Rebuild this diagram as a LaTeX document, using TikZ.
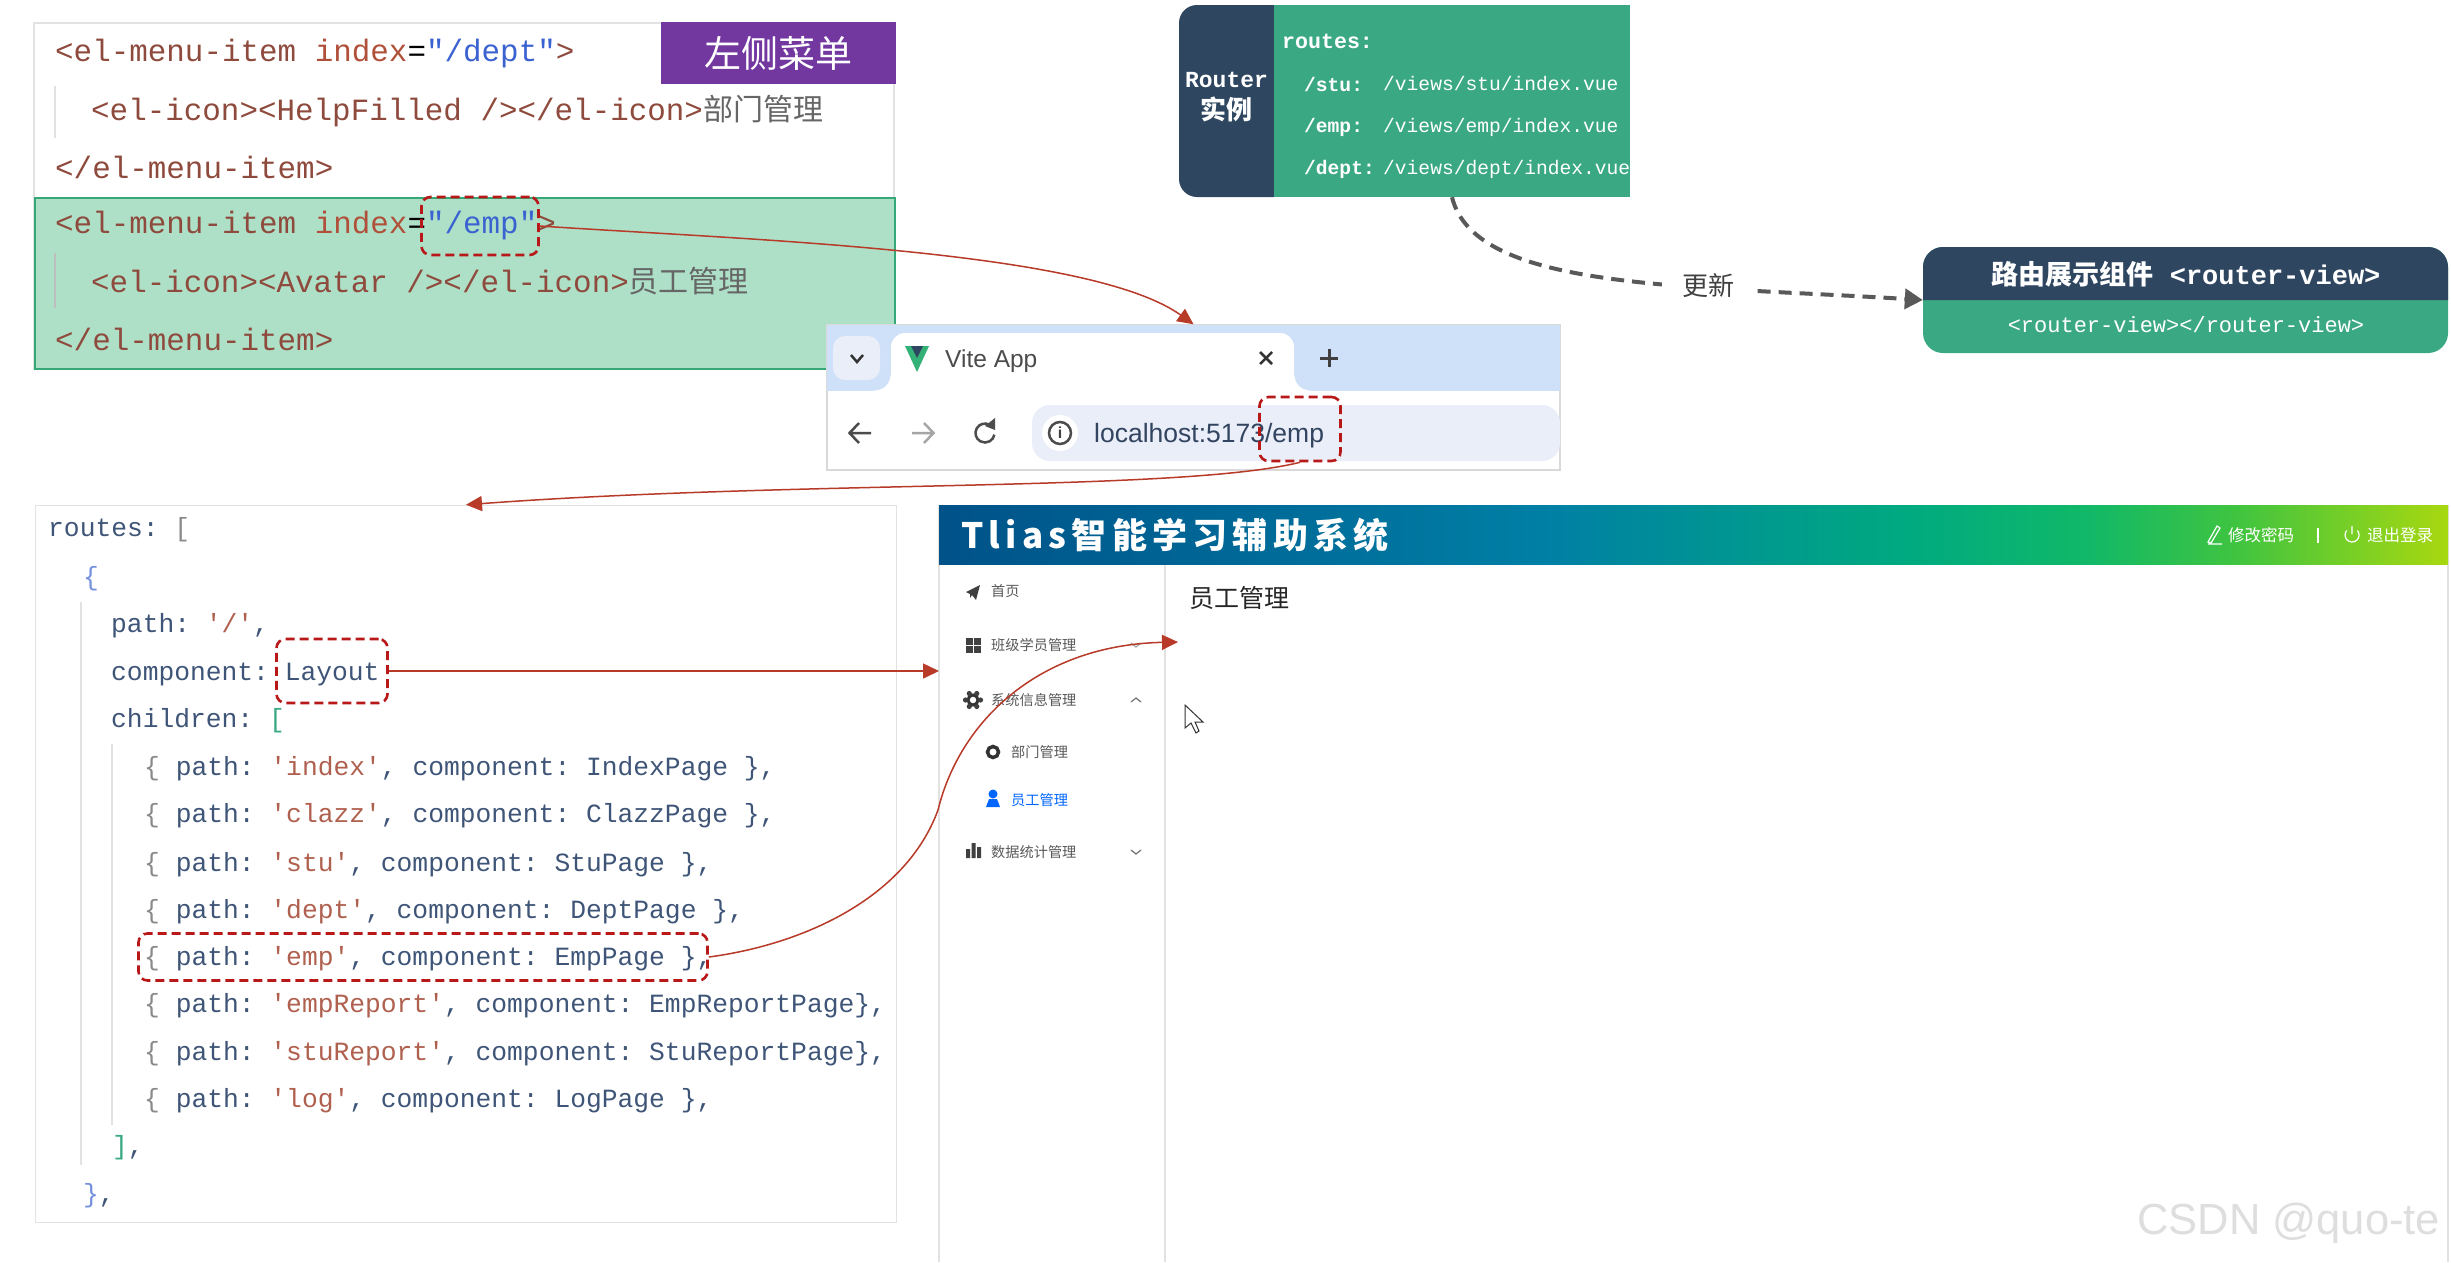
\documentclass[tikz,border=0pt]{standalone}
\usepackage{fontspec}
\setmainfont{Liberation Sans}
\setmonofont{Liberation Mono}
\newfontfamily\cjk{Noto Sans CJK SC}
\usetikzlibrary{positioning,arrows.meta}
\definecolor{navy}{HTML}{2F4661}
\definecolor{teal}{HTML}{3AA883}
\definecolor{mint}{HTML}{AEE0C8}
\definecolor{mintline}{HTML}{36A878}
\definecolor{grape}{HTML}{7238A0}
\definecolor{brick}{HTML}{B83A28}
\definecolor{boxred}{HTML}{B81818}
\definecolor{tabblue}{HTML}{CFE0F9}
\definecolor{urlgray}{HTML}{E9EEF8}
\definecolor{panelline}{HTML}{E2E2E2}
\definecolor{tagcol}{HTML}{8E4A3C}
\definecolor{attrcol}{HTML}{B0503A}
\definecolor{strcol}{HTML}{3A62D0}
\definecolor{keycol}{HTML}{3F5578}
\definecolor{vcol}{HTML}{B0604E}
\definecolor{bracecol}{HTML}{8A8A8A}
\definecolor{barA}{HTML}{005289}
\definecolor{barB}{HTML}{007FA5}
\definecolor{barC}{HTML}{00AA80}
\definecolor{barD}{HTML}{10B868}
\definecolor{barE}{HTML}{40C440}
\definecolor{barF}{HTML}{A8D810}
\pgfdeclarehorizontalshading{appbar}{100bp}{color(0bp)=(barA);color(25bp)=(barA);
  color(45bp)=(barB);color(57bp)=(barC);color(63bp)=(barD);color(68bp)=(barE);
  color(75bp)=(barF);color(100bp)=(barF)}
\newcommand\ctag[1]{\textcolor{tagcol}{#1}}
\newcommand\cstr[1]{\textcolor{strcol}{#1}}
\newcommand\cattr[1]{\textcolor{attrcol}{#1}}
\newcommand\ckey[1]{\textcolor{keycol}{#1}}
\newcommand\cval[1]{\textcolor{vcol}{#1}}
\newcommand\cbr[1]{\textcolor{bracecol}{#1}}
\begin{document}
\begin{tikzpicture}[x=1pt,y=-1pt]
\tikzset{
  panel/.style={draw=panelline,line width=1.5pt,fill=white,inner sep=0pt},
  toptext/.style={anchor=west,inner sep=0pt,font=\fontsize{30.9}{34}\selectfont\ttfamily},
  code/.style={anchor=west,inner sep=0pt,text=keycol,font=\fontsize{26.3}{28}\selectfont\ttfamily},
  routetext/.style={anchor=west,inner sep=0pt,text=white,font=\fontsize{19.6}{22}\selectfont\ttfamily\bfseries},
  guide/.style={draw=panelline,line width=1.5pt},
  menu/.style={anchor=west,inner sep=0pt,text=black!65,font=\fontsize{14.2}{16}\selectfont\cjk},
  icon/.style={fill=black!75},
  chev/.style={draw=black!55,line width=1.2pt},
  redbox/.style={draw=boxred,line width=2.6pt,dash pattern=on 9pt off 5pt,rounded corners=9pt,inner sep=0pt},
  redline/.style={draw=brick,line width=1.5pt,-{Triangle[length=16pt,width=15pt]}},
}
\path[use as bounding box,fill=white] (0,0) rectangle (2451,1262);
% menu code
\node[panel,minimum width=860pt,minimum height=346pt] (menu) at (464,196) {};
\node[draw=mintline,line width=1.5pt,fill=mint,minimum width=860pt,minimum height=171pt] (active) at (465,283.5) {};
\node[fill=grape,text=white,font=\fontsize{37}{40}\selectfont\cjk,minimum width=235pt,minimum height=62pt,inner sep=0pt] (tag) at (778,53) {左侧菜单};
\draw[guide] (55,86) -- (55,138);
\draw[guide,draw=black!25] (55,253) -- (55,308);
\node[toptext] (m1) at (55,54) {\ctag{<el-menu-item} \cattr{index}=\cstr{"/dept"}\ctag{>}};
\node[toptext] (m2) at (91,111) {\ctag{<el-icon><HelpFilled /></el-icon>}\textcolor{black!60}{\fontsize{30}{32}\selectfont\cjk 部门管理}};
\node[toptext] (m3) at (55,167) {\ctag{</el-menu-item>}};
\node[toptext] (m4) at (55,226) {\ctag{<el-menu-item} \cattr{index}=\cstr{"/emp"}\ctag{>}};
\node[toptext] (m5) at (91,281) {\ctag{<el-icon><Avatar /></el-icon>}\textcolor{black!60}{\fontsize{30}{32}\selectfont\cjk 员工管理}};
\node[toptext] (m6) at (55,339) {\ctag{</el-menu-item>}};
% router instance
\fill[navy] (1274,197) [rounded corners=18pt] -- (1179,197) -- (1179,5) [sharp corners] -- (1274,5) -- cycle;
\node[fill=teal,minimum width=356pt,minimum height=192pt,inner sep=0pt] (routerbody) at (1452,101) {};
\node[align=center,text=white,inner sep=0pt,font=\fontsize{23}{32}\selectfont\ttfamily\bfseries] (routerhead) at (1226.5,97) {Router\\{\fontsize{26}{32}\selectfont\cjk 实例}};
\node[routetext,font=\fontsize{21.6}{24}\selectfont\ttfamily\bfseries] (r0) at (1282,41) {routes:};
\foreach \n/\p/\f/\y in {1/stu/stu/84,2/emp/emp/127,3/dept/dept/169} {
  \node[routetext] (r\n) at (1304,\y) {/\p:};
  \node[routetext,font=\fontsize{19.6}{22}\selectfont\ttfamily] (f\n) at (1383,\y) {/views/\f/index.vue};
}
% router-view
\node[fill=teal,rounded corners=20pt,minimum width=525pt,minimum height=106pt,inner sep=0pt] (rv) at (2185.5,300) {};
\fill[navy] (1923,300) [rounded corners=20pt] -- (1923,247) -- (2448,247) [sharp corners] -- (2448,300) -- cycle;
\node[text=white,inner sep=0pt,font=\fontsize{27}{30}\selectfont\ttfamily\bfseries] (rvhead) at (2186,274) {{\fontsize{27}{30}\selectfont\cjk 路由展示组件} <router-view>};
\node[text=white,inner sep=0pt,font=\fontsize{22}{24}\selectfont\ttfamily] (rvbody) at (2186,325) {<router-view></router-view>};
% browser
\node[draw=black!15,line width=1.5pt,fill=white,minimum width=733pt,minimum height=145pt,inner sep=0pt] (browser) at (1193.5,397.5) {};
\fill[tabblue] (827,325) rectangle (1560,391);
\fill[white] (868,391) .. controls (885,391) and (891,385) .. (891,370) -- (891,348) [rounded corners=14pt] -- (891,333) -- (1294,333) [sharp corners] -- (1294,370) .. controls (1294,385) and (1300,391) .. (1316,391) -- cycle;
\fill[urlgray,rounded corners=12pt] (833,336) rectangle (880,380);
\draw[line width=2.5pt,black!80] (851,355) -- (857,362) -- (863,355);
\fill[teal!90!green] (905,346) -- (929,346) -- (917,372) -- cycle;
\fill[navy] (911,346) -- (923,346) -- (917,358) -- cycle;
\node[anchor=west,inner sep=0pt,text=black!70,font=\fontsize{24.5}{26}\selectfont] (vite) at (945,361) {Vite App};
\draw[line width=2.5pt,black!80] (1260,352) -- (1272,364) (1272,352) -- (1260,364);
\draw[line width=3pt,black!75] (1320,358) -- (1338,358) (1329,349) -- (1329,367);
\fill[urlgray,rounded corners=18pt] (1032,405) rectangle (1560,461);
\fill[white] (1060,433) circle (18pt);
\draw[line width=2.5pt,black!70] (1060,433) circle (11pt);
\node[inner sep=0pt,text=black!75,font=\fontsize{16}{18}\selectfont\bfseries] (info) at (1060,433) {i};
\draw[line width=2.5pt,black!70] (871,433) -- (850,433) (859,423) -- (849.5,433) -- (859,443);
\draw[line width=2.5pt,black!35] (912,433) -- (933,433) (924,423) -- (933.5,433) -- (924,443);
\draw[line width=2.5pt,black!70] (989.75,424.8) arc (60:350:9.5pt);
\fill[black!70] (995,418) -- (995,430) -- (985,426) -- cycle;
\node[anchor=west,inner sep=0pt,text=keycol!80!black,font=\fontsize{26.5}{28}\selectfont] (url) at (1094,436) {localhost:5173/emp};
% routes code
\node[panel,minimum width=861pt,minimum height=717pt] (routes) at (466,864) {};
\draw[guide] (81,602) -- (81,1165);
\draw[guide] (112,744) -- (112,1125);
\node[code] (c1) at (48,530) {routes: \cbr{[}};
\node[code] (c2) at (83,579) {\textcolor{strcol!70}{\{}};
\node[code] (c3) at (111,626) {path: \cval{'/'},};
\node[code] (c4) at (111,674) {component: Layout};
\node[code] (c5) at (111,721) {children: \textcolor{teal}{[}};
\foreach \n/\p/\c/\y in {6/index/{IndexPage \},}/769,7/clazz/{ClazzPage \},}/816,8/stu/{StuPage \},}/865,9/dept/{DeptPage \},}/912,
  10/emp/{EmpPage \},}/959,11/empReport/{EmpReportPage\},}/1006,12/stuReport/{StuReportPage\},}/1054,13/log/{LogPage \},}/1101} {
  \node[code] (c\n) at (144,\y) {\cbr{\{} path: \cval{'\p'}, component: \c};
}
\node[code] (c14) at (112,1148) {\textcolor{teal}{]},};
\node[code] (c15) at (83,1196) {\textcolor{strcol!70}{\}},};
% app window
\draw[panelline,line width=1.5pt] (939,505) -- (939,1262) (1165,564) -- (1165,1262) (2448,505) -- (2448,1262);
\node[shading=appbar,minimum width=1509pt,minimum height=59pt,inner sep=0pt] (appbar) at (1693.5,534.5) {};
\node[anchor=west,inner sep=0pt,text=white,font=\fontsize{35}{38}\selectfont\cjk\bfseries\addfontfeatures{LetterSpace=15}] (title) at (961,535) {Tlias智能学习辅助系统};
\node[menu,text=white,font=\fontsize{16.5}{18}\selectfont\cjk] (pwd) at (2228,535) {修改密码};
\node[menu,text=white,font=\fontsize{16.5}{18}\selectfont\cjk] (quit) at (2367,535) {退出登录};
\draw[white,line width=1.2pt] (2208,542) -- (2217,526) -- (2220,528) -- (2211,543) -- cycle (2208,544) -- (2222,544);
\draw[white,line width=1.5pt] (2318,528) -- (2318,543);
\draw[white,line width=1.2pt] (2357.4,530.5) arc (40:-220:7pt) (2352,526) -- (2352,534);
\node[menu] (i1) at (991,591) {首页};
\node[menu] (i2) at (991,645) {班级学员管理};
\node[menu] (i3) at (991,700) {系统信息管理};
\node[menu] (i4) at (1011,752) {部门管理};
\node[menu,text=blue!60!cyan] (i5) at (1011,800) {员工管理};
\node[menu] (i6) at (991,852) {数据统计管理};
\node[anchor=west,inner sep=0pt,text=black!85,font=\fontsize{25}{27}\selectfont\cjk] (page) at (1189,598) {员工管理};
\fill[icon] (966,592) -- (980,585) -- (976,600) -- (972,595) -- (970,598) -- (970,594) -- cycle;
\foreach \i in {0,1} \foreach \j in {0,1} \fill[icon] ({966+8*\i},{638+8*\j}) rectangle +(6.5,6.5);
\draw[black!80,line width=3pt] (973,700) circle (5pt);
\foreach \a in {0,60,...,300} \fill[icon] (973,700) ++(\a:7.5pt) circle (2.6pt);
\draw[black!80,line width=3.5pt] (993,752) circle (5.5pt);
\fill[blue!60!cyan] (993,794) circle (4.5pt) (986,807) -- (989,799) -- (997,799) -- (1000,807) -- cycle;
\fill[icon] (966,849) rectangle (970,858) (971.5,843) rectangle (975.5,858) (977,847) rectangle (981,858);
\draw[chev,black!35] (1131,643) -- (1136,647) -- (1141,643);
\draw[chev] (1131,702) -- (1136,698) -- (1141,702);
\draw[chev] (1131,850) -- (1136,854) -- (1141,850);
\draw[black!80,fill=white,line width=1pt] (1185,705) -- (1185,728) -- (1191,723) -- (1196,733) -- (1199,731) -- (1195,722) -- (1203,722) -- cycle;
\node[anchor=west,inner sep=0pt,text=black!13,font=\fontsize{43.5}{46}\selectfont] (mark) at (2137,1223) {CSDN @quo-te};
% dashed highlights
\node[redbox,minimum width=117pt,minimum height=58pt] (b1) at (480,226) {};
\node[redbox,minimum width=81pt,minimum height=64pt] (b2) at (1300,429) {};
\node[redbox,minimum width=111pt,minimum height=64pt] (b3) at (332,671) {};
\node[redbox,minimum width=569pt,minimum height=47pt] (b4) at (423,957) {};
% links
\coordinate (appin) at (939,671);
\coordinate (pagein) at (1178,642);
\draw[redline] (b1.east) .. controls (750,240) and (1090,250) .. (browser.north);
\draw[redline] (b2.south) .. controls (1180,492) and (800,480) .. (routes.north);
\draw[redline] (b3.east) -- (appin);
\draw[redline] (b4.east) .. controls (800,945) and (905,900) .. (938,810) .. controls (960,720) and (1040,645) .. (pagein);
\draw[draw=black!65,line width=4pt,dash pattern=on 13pt off 8pt,-{Triangle[length=18pt,width=20pt]}] (routerbody.south) .. controls (1475,290) and (1680,285) .. (rv.west);
\node[fill=white,inner xsep=20pt,inner ysep=6pt,text=black!75,font=\fontsize{26}{28}\selectfont\cjk] (update) at (1708,286) {更新};
\end{tikzpicture}
\end{document}
